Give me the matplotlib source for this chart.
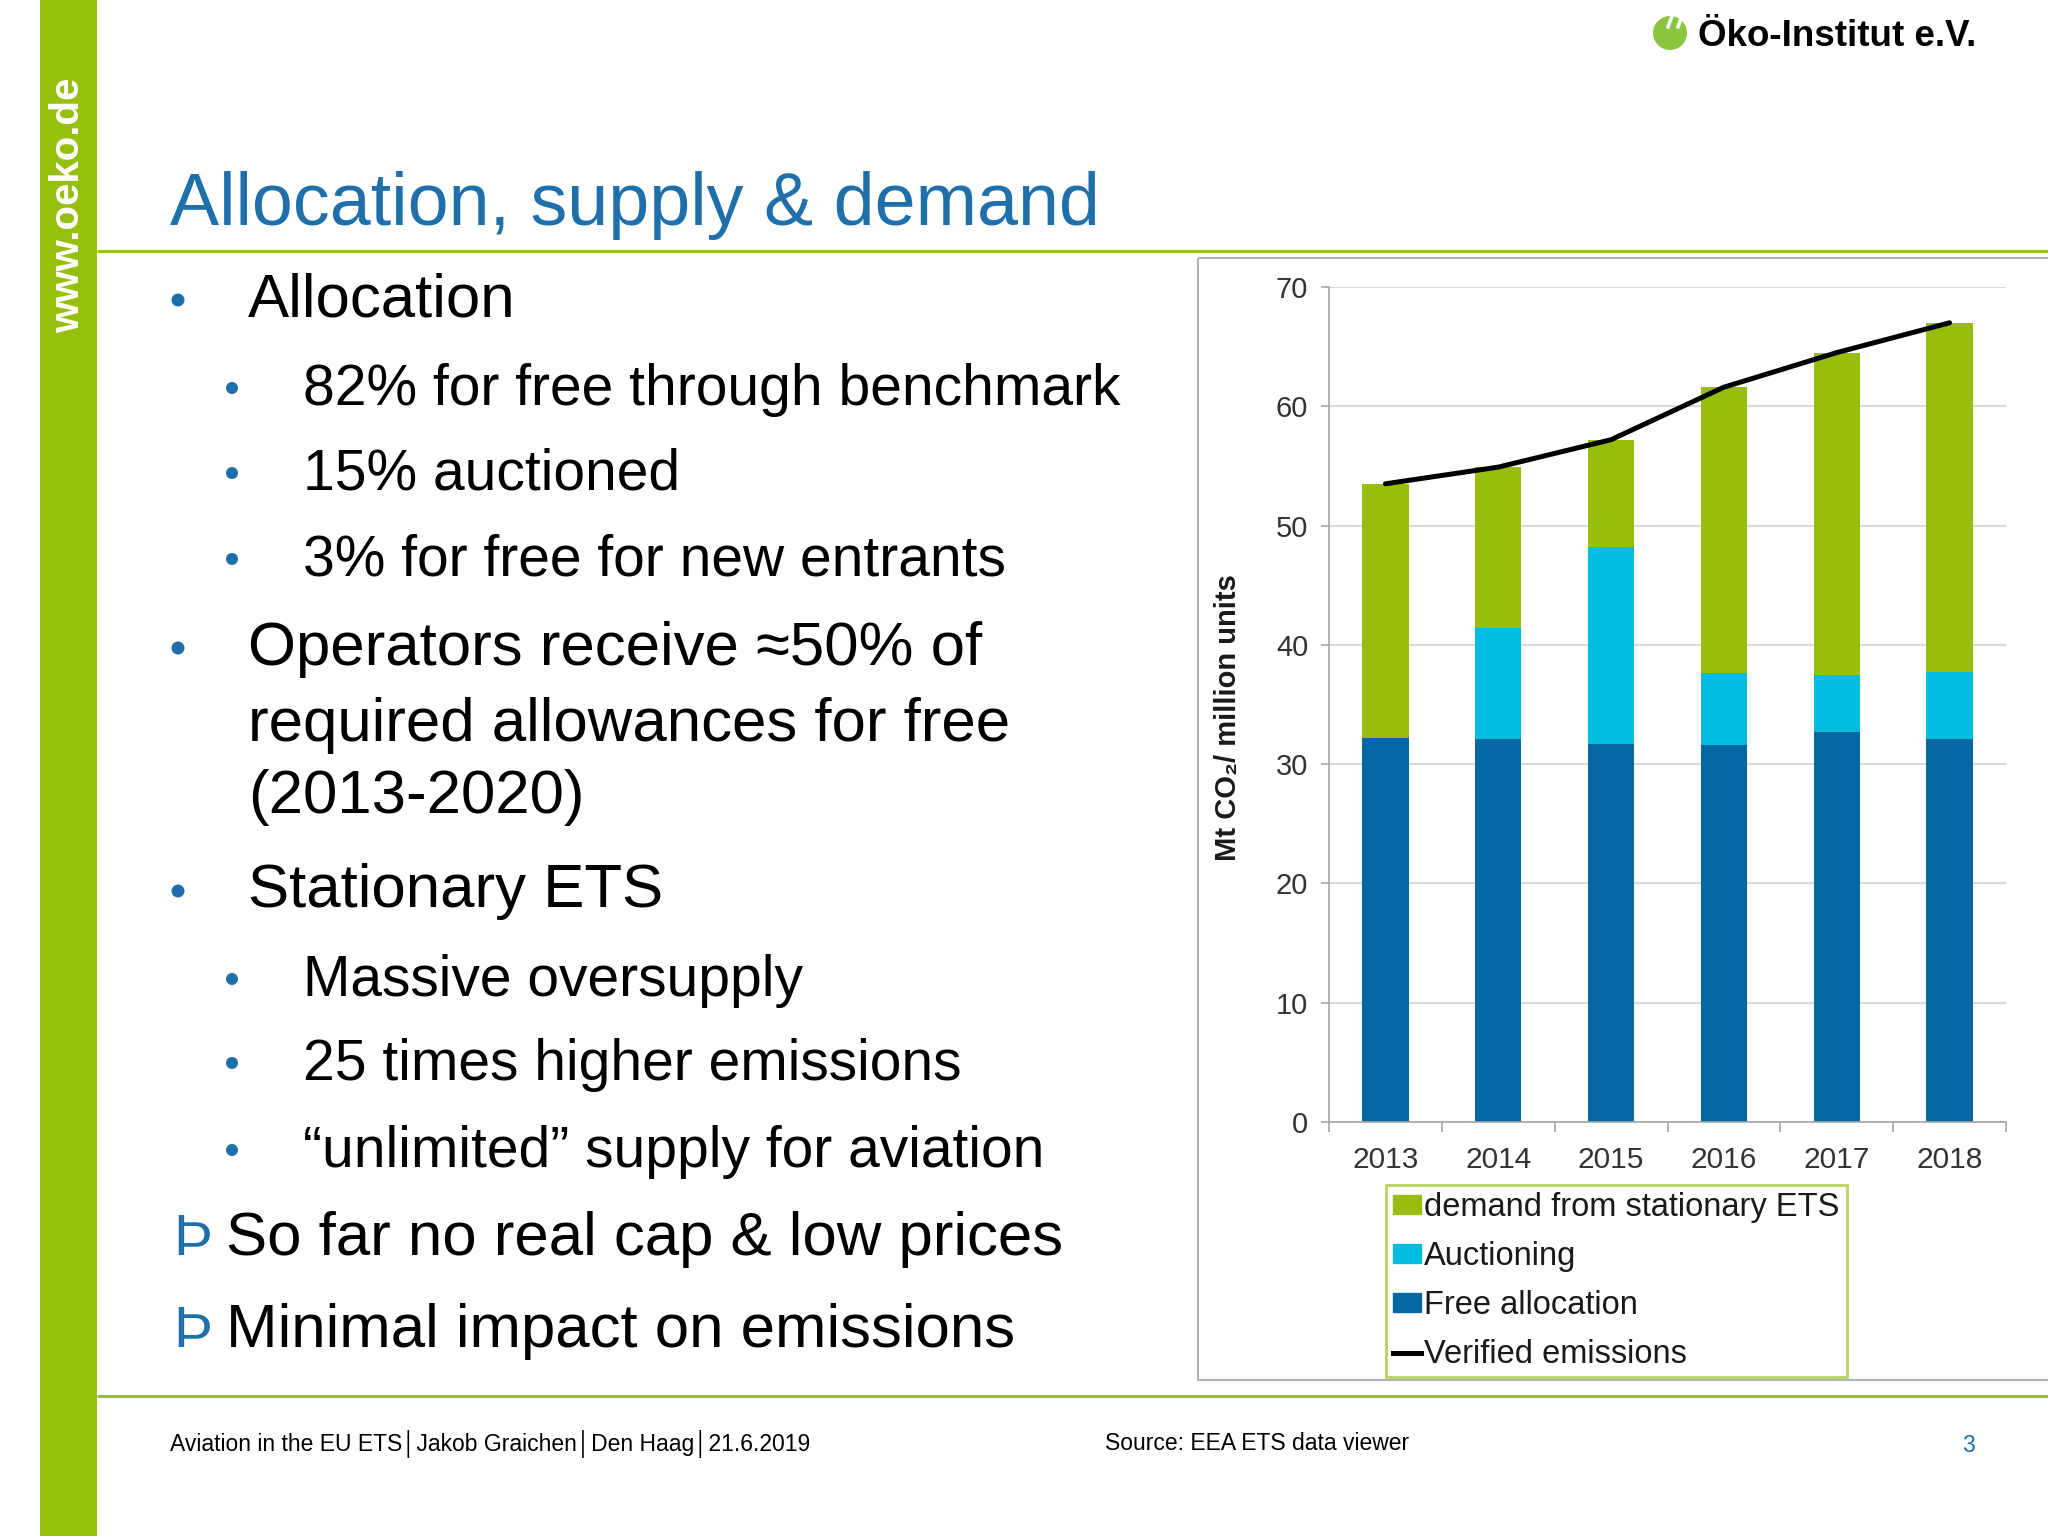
import numpy as np
import matplotlib.pyplot as plt
from matplotlib.patches import Rectangle, Circle, Patch
from matplotlib.lines import Line2D

plt.rcParams['font.family'] = ['Liberation Sans', 'DejaVu Sans']

## Chart data ##
years = ['2013', '2014', '2015', '2016', '2017', '2018']
free_allocation = np.array([32.2, 32.1, 31.7, 31.6, 32.7, 32.1])
auctioning = np.array([0.0, 9.3, 16.5, 6.0, 4.8, 5.6])
demand_stationary = np.array([21.3, 13.5, 9.0, 24.0, 27.0, 29.3])
verified_emissions = np.array([53.5, 54.9, 57.2, 61.6, 64.5, 67.0])

## Colours ##
c_side = '#97bf0d'
c_line = '#9cc21f'
c_title = '#1f6fab'
c_free = '#0568a4'
c_auct = '#00bde0'
c_dem = '#97be0d'

W, H = 2048, 1536
fig = plt.figure(figsize=(20.48, 15.36), dpi=100)

## Slide background drawn in pixel coordinates ##
bg = fig.add_axes([0, 0, 1, 1])
bg.set_xlim(0, W)
bg.set_ylim(H, 0)
bg.axis('off')

bg.add_patch(Rectangle((40, 0), 57, H, color=c_side, lw=0))
bg.text(68, 205, 'www.oeko.de', rotation=90, color='white', fontsize=29,
        fontweight='bold', ha='center', va='center')

bg.plot([97, W], [251, 251], color=c_line, lw=2.2, solid_capstyle='butt')
bg.plot([97, W], [1396, 1396], color=c_line, lw=2.2, solid_capstyle='butt')

# logo
bg.add_patch(Circle((1670, 33), 17, color='#8cc63f', lw=0))
bg.plot([1668, 1672], [27, 16], color='white', lw=2.5)
bg.plot([1678, 1682], [27, 16], color='white', lw=2.5)
bg.text(1698, 37, 'Öko-Institut e.V.', fontsize=26.5, fontweight='heavy',
        ha='left', va='center', color='black')

bg.text(170, 206, 'Allocation, supply & demand', fontsize=53, color=c_title,
        ha='left', va='center')

## Bullet text ##
lines = [
    (1, 'Allocation', 296, True),
    (2, '82% for free through benchmark', 385, True),
    (2, '15% auctioned', 470, True),
    (2, '3% for free for new entrants', 556, True),
    (1, 'Operators receive \u224850% of', 644, True),
    (1, 'required allowances for free', 720, False),
    (1, '(2013-2020)', 793, False),
    (1, 'Stationary ETS', 887, True),
    (2, 'Massive oversupply', 976, True),
    (2, '25 times higher emissions', 1060, True),
    (2, '\u201cunlimited\u201d supply for aviation', 1147, True),
    (0, 'So far no real cap & low prices', 1235, True),
    (0, 'Minimal impact on emissions', 1327, True),
]
for lvl, txt, y, mark in lines:
    if lvl == 1:
        if mark:
            bg.add_patch(Circle((178, y + 4), 6.5, color=c_title, lw=0))
        bg.text(248, y + 5, txt, fontsize=44.5, ha='left', va='center', color='black')
    elif lvl == 2:
        if mark:
            bg.add_patch(Circle((232, y + 3), 6, color=c_title, lw=0))
        bg.text(303, y + 5, txt, fontsize=41, ha='left', va='center', color='black')
    else:
        bg.text(173, y + 5, '\u00de', fontsize=42, color=c_title, ha='left', va='center')
        bg.text(226, y + 5, txt, fontsize=44.5, ha='left', va='center', color='black')

## Footer ##
bg.text(170, 1444, 'Aviation in the EU ETS\u2502Jakob Graichen\u2502Den Haag\u250221.6.2019',
        fontsize=16.5, ha='left', va='center', color='black')
bg.text(1105, 1444, 'Source: EEA ETS data viewer', fontsize=16.5, ha='left',
        va='center', color='black')
bg.text(1968, 1446, '3', fontsize=16.5, ha='center', va='center', color=c_title)

## Chart frame ##
bg.add_patch(Rectangle((1198, 258), 900, 1122, fill=False, edgecolor='#b3b3b3', lw=1.5))

## Chart ##
ax = fig.add_axes([1329 / W, 1 - 1122 / H, 677 / W, 835 / H])
x = np.arange(len(years))
bw = 0.41
ax.bar(x, free_allocation, bw, color=c_free, zorder=2)
ax.bar(x, auctioning, bw, bottom=free_allocation, color=c_auct, zorder=2)
ax.bar(x, demand_stationary, bw, bottom=free_allocation + auctioning, color=c_dem, zorder=2)
ax.plot(x, verified_emissions, color='black', lw=3.6, zorder=3, solid_capstyle='round')

ax.set_xlim(-0.5, len(years) - 0.5)
ax.set_ylim(0, 70)
ax.set_yticks(range(0, 71, 10))
ax.set_xticks(x)
ax.set_xticklabels(years)
ax.set_xticks(np.arange(-0.5, len(years)), minor=True)
ax.tick_params(axis='x', which='major', length=0, pad=17, labelsize=21.5, labelcolor='#333333')
ax.tick_params(axis='x', which='minor', length=7, width=1.2, color='#a6a6a6')
ax.tick_params(axis='y', length=6, width=1.2, color='#a6a6a6', pad=9,
               labelsize=21, labelcolor='#333333')
ax.yaxis.grid(True, color='#d9d9d9', lw=1.5)
ax.set_axisbelow(True)
for s in ['top', 'right']:
    ax.spines[s].set_visible(False)
for s in ['left', 'bottom']:
    ax.spines[s].set_color('#a6a6a6')
    ax.spines[s].set_linewidth(1.2)

fig.text(1228 / W, 1 - 718 / H, 'Mt CO\u2082/ million units', rotation=90, fontsize=21,
         fontweight='bold', ha='center', va='center', color='#1a1a1a')

handles = [Patch(color=c_dem), Patch(color=c_auct), Patch(color=c_free),
           Line2D([], [], color='black', lw=3.6)]
labels = ['demand from stationary ETS', 'Auctioning', 'Free allocation', 'Verified emissions']
leg = fig.legend(handles, labels, loc='upper left', bbox_to_anchor=(1386 / W, 1 - 1185 / H),
                 bbox_transform=fig.transFigure, fontsize=23.5, frameon=True, fancybox=False,
                 borderpad=0.22, labelspacing=0.55, handlelength=0.85, handleheight=0.5,
                 handletextpad=0.1, borderaxespad=0)
leg.get_frame().set_edgecolor('#a8c83a')
leg.get_frame().set_linewidth(2)
for t in leg.get_texts():
    t.set_color('#1a1a1a')

fig.savefig('out.png', dpi=100)
